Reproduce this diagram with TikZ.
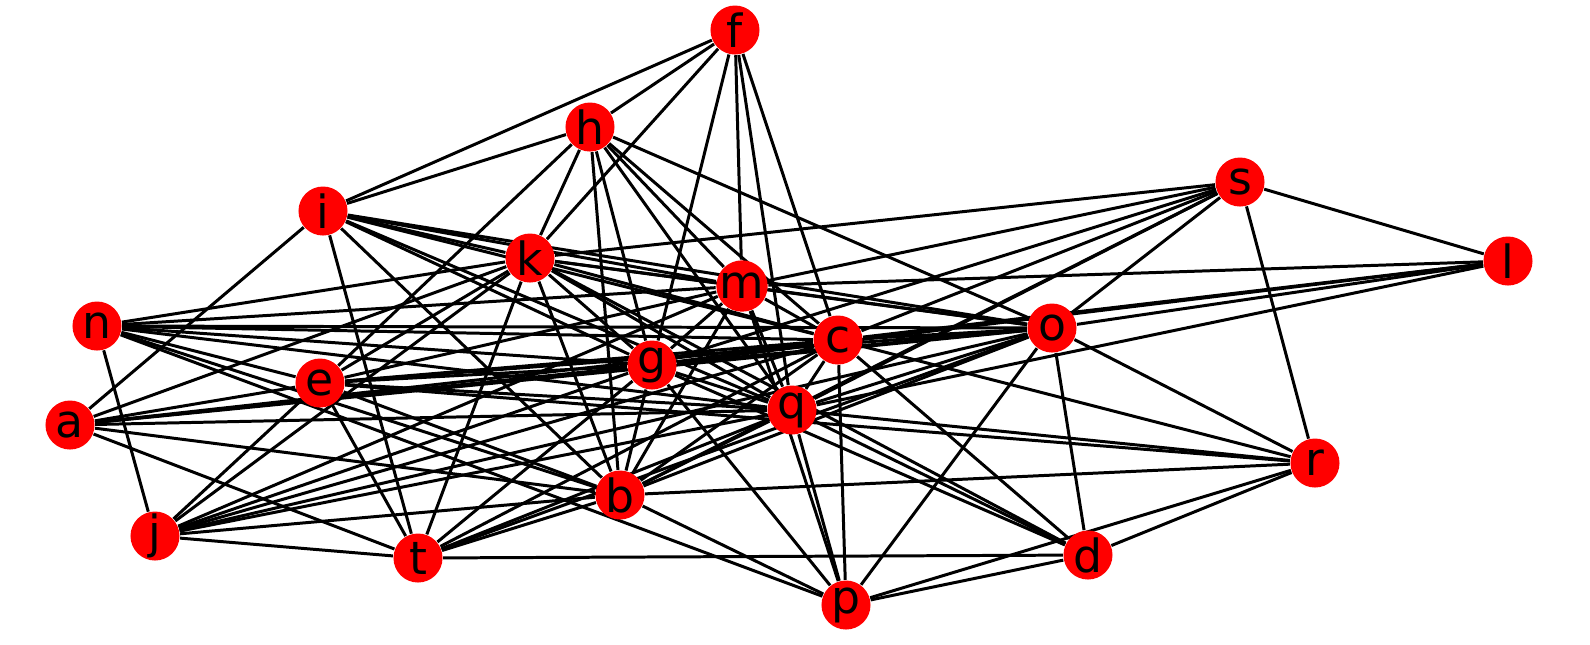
\documentclass[tikz,border=0pt]{standalone}
\usepackage{fontspec}
\setmainfont{DejaVu Sans}
\usetikzlibrary{backgrounds}
\begin{document}
\begin{tikzpicture}[x=0.01cm,y=-0.01cm,
  vtx/.style={circle,fill=red,inner sep=0pt,minimum size=0.49cm,font=\fontsize{13}{13}\selectfont},
  edge/.style={line width=0.85pt,black}]
\useasboundingbox (0,0) rectangle (1590,644);
\foreach \n/\x/\y in {f/735/30,h/590/127,i/323/211,k/530/258,m/742/286,s/1240/182,l/1508/261,n/97/326,o/1052/328,c/838/340,g/652/365,e/320/383,a/70/425,q/792/410,r/1315/463,b/620/495,j/155/536,t/418/558,d/1088/555,p/846/605}
  \node[vtx] (\n) at (\x,\y) {\n};
\begin{scope}[on background layer]
\foreach \u/\vs in {f/{i,h,k,g,m,q,c},h/{i,k,e,b,g,q,m,c,o},i/{a,t,b,k,m,c,o,g,q},
  k/{s,n,e,a,j,t,m,c,o,g,q,d,b},m/{l,s,n,e,j,b,g,c,o,q,p},s/{g,c,o,q,b,l,r},
  l/{o,c,q,g},n/{c,g,o,q,b,j,p,e},o/{c,g,e,a,q,b,t,p,d,r,j},
  c/{g,e,a,q,b,t,j,p,d,r},g/{e,a,j,t,b,p,q,d},e/{a,j,t,q,b,r},a/{q,b,t},
  q/{j,t,b,p,d,r},b/{t,j,p,r},j/{t},t/{d},d/{r,p},p/{r}}
  \foreach \v in \vs \draw[edge] (\u) -- (\v);
\end{scope}
\end{tikzpicture}
\end{document}
